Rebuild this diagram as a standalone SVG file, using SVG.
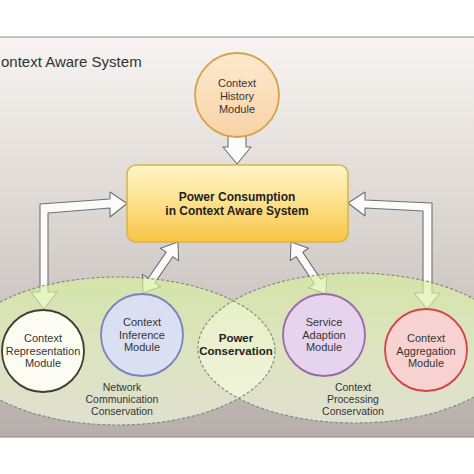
<svg xmlns="http://www.w3.org/2000/svg" width="474" height="474" viewBox="0 0 474 474">
<defs>
<linearGradient id="panelG" x1="0" y1="0" x2="0" y2="1">
<stop offset="0" stop-color="#f7f4f1"/>
<stop offset="0.5" stop-color="#d9d3cf"/>
<stop offset="1" stop-color="#b6aeaa"/>
</linearGradient>
<linearGradient id="ellG" x1="0" y1="0" x2="0" y2="1">
<stop offset="0" stop-color="#d6f09a"/>
<stop offset="0.55" stop-color="#eaf8c6"/>
<stop offset="1" stop-color="#f4f8e0"/>
</linearGradient>
<linearGradient id="lensG" x1="0" y1="0" x2="0" y2="1">
<stop offset="0" stop-color="#e4eec0"/>
<stop offset="1" stop-color="#f3f5df"/>
</linearGradient>
<linearGradient id="boxG" x1="0" y1="0" x2="0" y2="1">
<stop offset="0" stop-color="#fff5c8"/>
<stop offset="0.5" stop-color="#fde08a"/>
<stop offset="1" stop-color="#f7c444"/>
</linearGradient>
<linearGradient id="histG" x1="0" y1="0" x2="0" y2="1">
<stop offset="0" stop-color="#fde9cf"/>
<stop offset="1" stop-color="#f8d3a6"/>
</linearGradient>
<clipPath id="leftClip"><ellipse cx="118" cy="351" rx="157" ry="74"/></clipPath>
<style>
.t{font-family:"Liberation Sans",Arial,sans-serif;fill:#353535;text-anchor:middle;font-size:11px}
.b{font-weight:bold;fill:#222;font-size:12px}
.arr{fill:#fbfbfb;stroke:#707070;stroke-width:1.1;stroke-linejoin:round}
.ell{fill:url(#ellG);fill-opacity:0.66}
.dash{fill:none;stroke:#8a8a80;stroke-width:1.2;stroke-dasharray:3 2}
.c{stroke-width:1.8}
</style>
</defs>
<rect x="0" y="0" width="474" height="474" fill="#ffffff"/>
<rect x="-2" y="37" width="478" height="400" fill="url(#panelG)" stroke="#8c8888" stroke-width="1"/>
<text x="1" y="67" style="font-family:'Liberation Sans',Arial,sans-serif;font-size:15px;fill:#333">ontext Aware System</text>

<g id="connectors">
<polygon class="arr" points="228,132 246,132 246,147 251,147 237,164 223,147 228,147"/>
<polygon class="arr" points="40,204 110,199 110,192 127,203.5 110,217 110,208 48,213 48,292 57,292 44,309 31,292 40,292"/>
<polygon class="arr" points="348,203 365,192 365,200 432,203 432,293 440,293 427,309 414,293 423,293 423,211 365,208 365,216"/>
<polygon class="arr" points="178,242 178.6,260.6 172.8,256.7 154.8,282.9 160.6,286.8 143,293 142.4,274.4 148.2,278.3 166.2,252.1 160.4,248.2"/>
<polygon class="arr" points="291,242 308.5,248.3 302.7,252.2 320.9,279.4 326.7,275.5 326,294 308.5,287.7 314.3,283.8 296.1,256.6 290.3,260.5"/>
</g>

<g id="network-communication-conservation">
<ellipse class="ell" cx="118" cy="351" rx="157" ry="74"/>
</g>
<g id="context-processing-conservation">
<ellipse class="ell" cx="355" cy="348" rx="157" ry="75"/>
</g>
<g id="power-conservation">
<ellipse cx="355" cy="348" rx="157" ry="75" fill="url(#lensG)" clip-path="url(#leftClip)"/>
<ellipse class="dash" cx="118" cy="351" rx="157" ry="74"/>
<ellipse class="dash" cx="355" cy="348" rx="157" ry="75"/>
<text class="t b" x="236" y="342" style="font-size:11.5px">Power</text>
<text class="t b" x="236" y="355" style="font-size:11.5px">Conservation</text>
</g>
<text class="t" x="122" y="391" style="font-size:10.5px">Network</text>
<text class="t" x="122" y="403" style="font-size:10.5px">Communication</text>
<text class="t" x="122" y="415" style="font-size:10.5px">Conservation</text>
<text class="t" x="353" y="391" style="font-size:10.5px">Context</text>
<text class="t" x="353" y="403" style="font-size:10.5px">Processing</text>
<text class="t" x="353" y="415" style="font-size:10.5px">Conservation</text>

<g id="power-consumption">
<rect x="127" y="165" width="221" height="77" rx="9" fill="url(#boxG)" stroke="#d9b250" stroke-width="1.5"/>
<text class="t b" x="237" y="201">Power Consumption</text>
<text class="t b" x="237" y="215">in Context Aware System</text>
</g>

<g id="context-history">
<circle class="c" cx="237" cy="95" r="42" fill="url(#histG)" stroke="#d9a24a"/>
<text class="t" x="237" y="87">Context</text>
<text class="t" x="237" y="100">History</text>
<text class="t" x="237" y="113">Module</text>
</g>

<g id="context-representation">
<circle class="c" cx="43" cy="351" r="41" fill="#fdfcf2" stroke="#3d3d32"/>
<text class="t" x="43" y="342">Context</text>
<text class="t" x="43" y="354.5">Representation</text>
<text class="t" x="43" y="367">Module</text>
</g>

<g id="context-inference">
<circle class="c" cx="142" cy="335" r="41" fill="#dadff2" stroke="#7584c4"/>
<text class="t" x="142" y="326">Context</text>
<text class="t" x="142" y="338.5">Inference</text>
<text class="t" x="142" y="351">Module</text>
</g>

<g id="service-adaption">
<circle class="c" cx="324" cy="335" r="41" fill="#e6d3ee" stroke="#9a6aa8"/>
<text class="t" x="324" y="326">Service</text>
<text class="t" x="324" y="338.5">Adaption</text>
<text class="t" x="324" y="351">Module</text>
</g>

<g id="context-aggregation">
<circle class="c" cx="426" cy="350" r="41" fill="#f8d2d0" stroke="#d04545"/>
<text class="t" x="426" y="342">Context</text>
<text class="t" x="426" y="354.5">Aggregation</text>
<text class="t" x="426" y="367">Module</text>
</g>
</svg>
